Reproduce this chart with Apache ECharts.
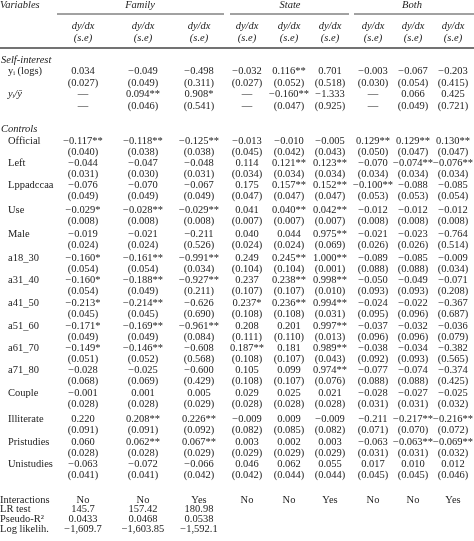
<!DOCTYPE html>
<html>
<head>
<meta charset="utf-8">
<script src="https://cdn.jsdelivr.net/npm/echarts@6/dist/echarts.min.js"></script>
<style>html,body{margin:0;padding:0;background:#fff}#main{width:474px;height:541px}</style>
</head>
<body>
<div id="main"></div>
<script>
var groups = ['Family', 'State', 'Both'];
var colX = [83, 143, 199, 247, 289, 330, 373, 413, 453];

var selfLabels = ['y\u1d62 (logs)', 'y\u1d62/\u0233'];
var selfCoef = [
  ['0.034', '\u22120.049', '\u22120.498', '\u22120.032', '0.116**', '0.701', '\u22120.003', '\u22120.067', '\u22120.203'],
  ['\u2014', '0.094**', '0.908*', '\u2014', '\u22120.160**', '\u22121.333', '\u2014', '0.066', '0.425']
];
var selfSe = [
  ['(0.027)', '(0.049)', '(0.311)', '(0.027)', '(0.052)', '(0.518)', '(0.030)', '(0.054)', '(0.415)'],
  ['\u2014', '(0.046)', '(0.541)', '\u2014', '(0.047)', '(0.925)', '\u2014', '(0.049)', '(0.721)']
];

var ctrlLabels = ['Official', 'Left', 'Lppadccaa', 'Use', 'Male', 'a18_30', 'a31_40', 'a41_50', 'a51_60', 'a61_70', 'a71_80', 'Couple', 'Illiterate', 'Pristudies', 'Unistudies'];
var ctrlY = [141, 163, 185, 210, 234, 258, 280, 303, 326, 348, 370, 393, 419, 442, 464];
var ctrlCoef = [
  ['\u22120.117**', '\u22120.118**', '\u22120.125**', '\u22120.013', '\u22120.010', '\u22120.005', '0.129**', '0.129**', '0.130**'],
  ['\u22120.044', '\u22120.047', '\u22120.048', '0.114', '0.121**', '0.123**', '\u22120.070', '\u22120.074**', '\u22120.076**'],
  ['\u22120.076', '\u22120.070', '\u22120.067', '0.175', '0.157**', '0.152**', '\u22120.100**', '\u22120.088', '\u22120.085'],
  ['\u22120.029*', '\u22120.028**', '\u22120.029**', '0.041', '0.040**', '0.042**', '\u22120.012', '\u22120.012', '\u22120.012'],
  ['\u22120.019', '\u22120.021', '\u22120.211', '0.040', '0.044', '0.975**', '\u22120.021', '\u22120.023', '\u22120.764'],
  ['\u22120.160*', '\u22120.161**', '\u22120.991**', '0.249', '0.245**', '1.000**', '\u22120.089', '\u22120.085', '\u22120.009'],
  ['\u22120.160*', '\u22120.188**', '\u22120.927**', '0.237', '0.238**', '0.998**', '\u22120.050', '\u22120.049', '\u22120.071'],
  ['\u22120.213*', '\u22120.214**', '\u22120.626', '0.237*', '0.236**', '0.994**', '\u22120.024', '\u22120.022', '\u22120.367'],
  ['\u22120.171*', '\u22120.169**', '\u22120.961**', '0.208', '0.201', '0.997**', '\u22120.037', '\u22120.032', '\u22120.036'],
  ['\u22120.149*', '\u22120.146**', '\u22120.608', '0.187**', '0.181', '0.989**', '\u22120.038', '\u22120.034', '\u22120.382'],
  ['\u22120.028', '\u22120.025', '\u22120.600', '0.105', '0.099', '0.974**', '\u22120.077', '\u22120.074', '\u22120.374'],
  ['\u22120.001', '0.001', '0.005', '0.029', '0.025', '0.021', '\u22120.028', '\u22120.027', '\u22120.025'],
  ['0.220', '0.208**', '0.226**', '\u22120.009', '0.009', '\u22120.009', '\u22120.211', '\u22120.217**', '\u22120.216**'],
  ['0.060', '0.062**', '0.067**', '0.003', '0.002', '0.003', '\u22120.063', '\u22120.063**', '\u22120.069**'],
  ['\u22120.063', '\u22120.072', '\u22120.066', '0.046', '0.062', '0.055', '0.017', '0.010', '0.012']
];
var ctrlSe = [
  ['(0.040)', '(0.038)', '(0.038)', '(0.045)', '(0.042)', '(0.043)', '(0.050)', '(0.047)', '(0.047)'],
  ['(0.031)', '(0.030)', '(0.031)', '(0.034)', '(0.034)', '(0.034)', '(0.034)', '(0.034)', '(0.034)'],
  ['(0.049)', '(0.049)', '(0.049)', '(0.047)', '(0.047)', '(0.047)', '(0.053)', '(0.053)', '(0.054)'],
  ['(0.008)', '(0.008)', '(0.008)', '(0.007)', '(0.007)', '(0.007)', '(0.008)', '(0.008)', '(0.008)'],
  ['(0.024)', '(0.024)', '(0.526)', '(0.024)', '(0.024)', '(0.069)', '(0.026)', '(0.026)', '(0.514)'],
  ['(0.054)', '(0.054)', '(0.034)', '(0.104)', '(0.104)', '(0.001)', '(0.088)', '(0.088)', '(0.034)'],
  ['(0.054)', '(0.049)', '(0.211)', '(0.107)', '(0.107)', '(0.010)', '(0.093)', '(0.093)', '(0.208)'],
  ['(0.045)', '(0.045)', '(0.690)', '(0.108)', '(0.108)', '(0.031)', '(0.095)', '(0.096)', '(0.687)'],
  ['(0.049)', '(0.049)', '(0.084)', '(0.111)', '(0.110)', '(0.013)', '(0.096)', '(0.096)', '(0.079)'],
  ['(0.051)', '(0.052)', '(0.568)', '(0.108)', '(0.107)', '(0.043)', '(0.092)', '(0.093)', '(0.565)'],
  ['(0.068)', '(0.069)', '(0.429)', '(0.108)', '(0.107)', '(0.076)', '(0.088)', '(0.088)', '(0.425)'],
  ['(0.028)', '(0.028)', '(0.029)', '(0.028)', '(0.028)', '(0.028)', '(0.031)', '(0.031)', '(0.032)'],
  ['(0.091)', '(0.091)', '(0.092)', '(0.082)', '(0.085)', '(0.082)', '(0.071)', '(0.070)', '(0.072)'],
  ['(0.028)', '(0.028)', '(0.029)', '(0.029)', '(0.029)', '(0.029)', '(0.031)', '(0.031)', '(0.032)'],
  ['(0.041)', '(0.041)', '(0.042)', '(0.042)', '(0.044)', '(0.044)', '(0.045)', '(0.045)', '(0.046)']
];

var footLabels = ['Interactions', 'LR test', 'Pseudo-R\u00b2', 'Log likelih.'];
var footY = [500, 509, 519, 529];
var footVals = [
  ['No', 'No', 'Yes', 'No', 'No', 'Yes', 'No', 'No', 'Yes'],
  ['145.7', '157.42', '180.98'],
  ['0.0433', '0.0468', '0.0538'],
  ['\u22121,609.7', '\u22121,603.85', '\u22121,592.1']
];

var chart = echarts.init(document.getElementById('main'));
var font = '10.5px "Liberation Serif", "DejaVu Serif", serif';
var ifont = 'italic 10.5px "Liberation Serif", "DejaVu Serif", serif';
var g = [];
function txt(x, y, s, align, f) {
  g.push({ type: 'text', x: x, y: y, style: { text: s, font: f || font, fill: '#222', textAlign: align || 'center', textVerticalAlign: 'middle' } });
}
function line(x1, x2, y, w) {
  g.push({ type: 'line', shape: { x1: x1, y1: y, x2: x2, y2: y }, style: { stroke: '#444', lineWidth: w || 1 } });
}

txt(0, 5, 'Variables', 'left', ifont);
[[57, 224, 140], [230, 349, 290], [354, 474, 412]].forEach(function (s, i) {
  txt(s[2], 5, groups[i], 'center', ifont);
  line(s[0], s[1], 14, 1);
});
colX.forEach(function (x) {
  txt(x, 26, 'dy/dx', 'center', ifont);
  txt(x, 38, '(s.e)', 'center', ifont);
});
line(0, 474, 48, 1.5);

txt(1, 60, 'Self-interest', 'left', ifont);
[71, 94].forEach(function (y, r) {
  txt(8, y, selfLabels[r], 'left', r === 1 ? ifont : font);
  colX.forEach(function (x, c) {
    txt(x, y, selfCoef[r][c]);
    txt(x, y + 12, selfSe[r][c]);
  });
});

txt(1, 129, 'Controls', 'left', ifont);
ctrlY.forEach(function (y, r) {
  txt(8, y, ctrlLabels[r], 'left');
  colX.forEach(function (x, c) {
    txt(x, y, ctrlCoef[r][c]);
    txt(x, y + 11, ctrlSe[r][c]);
  });
});

footY.forEach(function (y, r) {
  txt(0, y, footLabels[r], 'left');
  footVals[r].forEach(function (v, c) { txt(colX[c], y, v); });
});

chart.setOption({ animation: false, graphic: g });
</script>
</body>
</html>
